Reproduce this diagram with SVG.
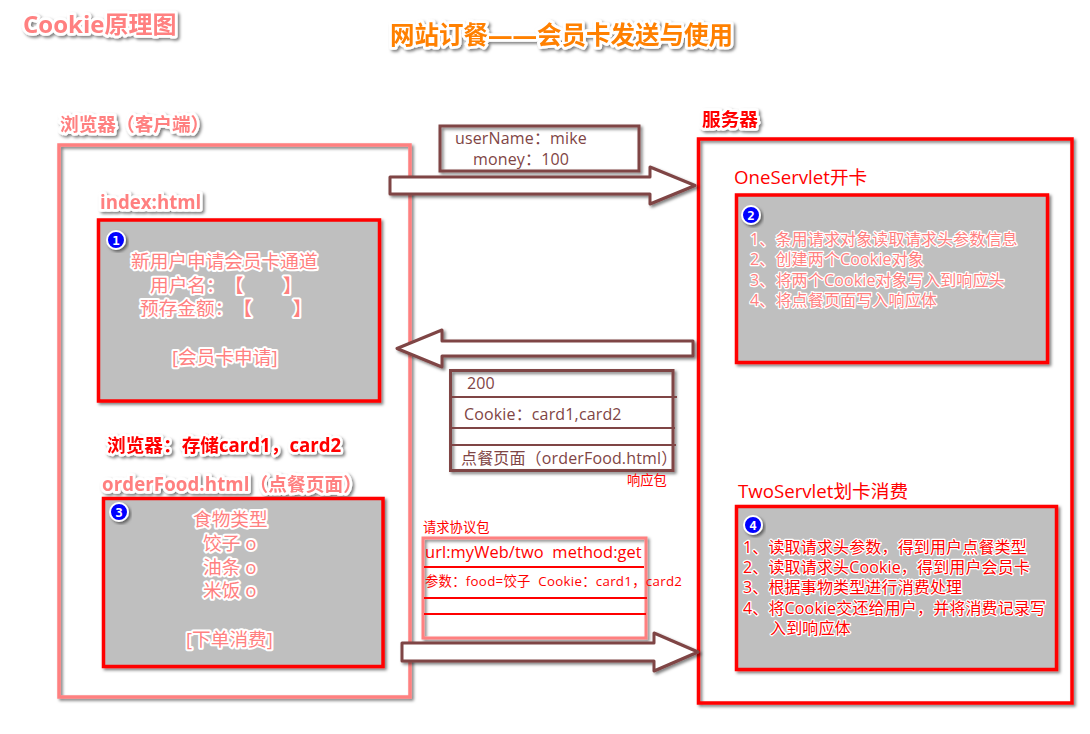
<svg xmlns="http://www.w3.org/2000/svg" width="1090" height="734" viewBox="0 0 1090 734">
<style>
text{font-family:"Open Sans","Noto Sans CJK SC",sans-serif;font-size:18.67px;white-space:pre;text-spacing-trim:space-all}
.h{font-weight:700;paint-order:stroke;stroke:#fff;stroke-width:5.5px;stroke-linejoin:round;filter:url(#s)}
.p{fill:#ff8080}.r{fill:#ff0000}.o{fill:#ff8000}.b{fill:#7f4545}
.halo{paint-order:stroke;stroke:#fff;stroke-width:4px;stroke-linejoin:round}
.thin{stroke-width:2.4px}
.s16{font-size:16px;letter-spacing:.15px}.s13{font-size:13.3px}
.panel{fill:#bfbfbf;stroke:#ff0000;stroke-width:3.5;filter:url(#s)}
.frame{fill:none;stroke-width:3.5;filter:url(#s)}
.arrow{fill:#fff;stroke:#7f4545;stroke-width:3;stroke-linejoin:round;filter:url(#s)}
.box{fill:none;stroke:#7f4545;stroke-width:3;filter:url(#s)}
.bl{stroke:#7f4545;stroke-width:2;fill:none}
.rl{stroke:#ff0000;stroke-width:2;fill:none}
.badge{fill:#0000ff;stroke:#fff;stroke-width:2;filter:url(#s)}
.num{font-family:"DejaVu Sans Mono",monospace;font-size:12.5px;font-weight:700;fill:#fff;text-anchor:middle}
</style>
<defs><filter id="s" x="-20%" y="-20%" width="140%" height="140%"><feDropShadow dx="2" dy="2" stdDeviation="1.8" flood-color="#000" flood-opacity="0.5"/></filter></defs>
<rect width="1090" height="734" fill="#fff"/>
<g id="title"><text class="h p" x="23" y="33" style="font-size:24px">Cookie原理图</text></g>
<g id="heading"><text class="h o" x="390" y="44" style="font-size:24.5px">网站订餐——会员卡发送与使用</text></g>
<g id="browser">
<rect class="frame" x="59" y="145" width="351" height="552" stroke="#ff8080"/>
<text class="h p" x="60" y="131">浏览器（客户端）</text>
</g>
<g id="server">
<rect class="frame" x="698.5" y="139" width="373.5" height="564" stroke="#ff0000"/>
<text class="h r" x="702" y="126">服务器</text>
</g>
<g id="node-index">
<text class="h p" x="100" y="209">index:html</text>
<rect class="panel" x="98.5" y="220" width="281" height="181"/>
<circle class="badge" cx="116" cy="240" r="9"/><text class="num" x="116" y="244.5">1</text>
<text class="p halo"><tspan x="131" y="268">新用户申请会员卡通道</tspan><tspan x="150" y="292">用户名：【</tspan><tspan x="283">】</tspan><tspan x="140" y="315">预存金额：【</tspan><tspan x="293">】</tspan><tspan x="172" y="364">[会员卡申请]</tspan></text>
</g>
<g id="note-store"><text class="h r" x="107" y="452" style="stroke-width:5px">浏览器：存储card1，card2</text></g>
<g id="node-orderfood">
<text class="h p" x="102" y="491" style="letter-spacing:.1px">orderFood.html（点餐页面）</text>
<rect class="panel" x="103.5" y="498.5" width="279.5" height="168"/>
<circle class="badge" cx="119" cy="512" r="9"/><text class="num" x="119" y="516.5">3</text>
<text class="p halo"><tspan x="193" y="526">食物类型</tspan><tspan x="203" y="550">饺子 o</tspan><tspan x="203" y="574">油条 o</tspan><tspan x="203" y="597">米饭 o</tspan><tspan x="186" y="646">[下单消费]</tspan></text>
</g>
<g id="node-oneservlet">
<text class="r" x="734" y="184">OneServlet开卡</text>
<rect class="panel" x="736.5" y="195" width="311" height="167.5"/>
<circle class="badge" cx="751" cy="215" r="9"/><text class="num" x="751" y="219.5">2</text>
<text class="p halo thin s16"><tspan x="750" y="245">1、条用请求对象读取请求头参数信息</tspan><tspan x="750" y="265">2、创建两个Cookie对象</tspan><tspan x="750" y="286">3、将两个Cookie对象写入到响应头</tspan><tspan x="750" y="306">4、将点餐页面写入响应体</tspan></text>
</g>
<g id="node-twoservlet">
<text class="r" x="738" y="498">TwoServlet划卡消费</text>
<rect class="panel" x="736.5" y="506.5" width="320" height="163"/>
<circle class="badge" cx="753" cy="525" r="9"/><text class="num" x="753" y="529.5">4</text>
<text class="r halo thin s16"><tspan x="743" y="553">1、读取请求头参数，得到用户点餐类型</tspan><tspan x="743" y="573">2、读取请求头Cookie，得到用户会员卡</tspan><tspan x="743" y="593">3、根据事物类型进行消费处理</tspan><tspan x="743" y="614">4、将Cookie交还给用户，并将消费记录写</tspan><tspan x="770" y="634">入到响应体</tspan></text>
</g>
<g id="packet-request-params">
<rect class="box" x="440" y="126" width="199" height="45"/>
<text class="b s16"><tspan x="455" y="144">userName：mike</tspan><tspan x="473" y="165">money：100</tspan></text>
</g>
<g id="packet-response">
<rect class="box" x="450.5" y="370.5" width="222.5" height="100"/>
<path class="bl" d="M451 397H677M451 428H675M451 445H676"/>
<text class="b s16"><tspan x="467" y="389">200</tspan><tspan x="464" y="420">Cookie：card1,card2</tspan><tspan x="461" y="464">点餐页面（orderFood.html）</tspan></text>
<text class="r s13" x="627" y="485">响应包</text>
</g>
<g id="packet-request">
<text class="r s13" x="423" y="532">请求协议包</text>
<rect class="box" x="423" y="538" width="223" height="100" style="stroke:#ff8080"/>
<path class="rl" d="M424 567H644M424 598H647M424 614H646"/>
<text class="r" x="425" y="558" style="font-size:16.4px;letter-spacing:.1px">url:myWeb/two  method:get</text>
<text class="r s13" x="425" y="586" style="letter-spacing:.3px">参数：food=饺子  Cookie：card1，card2</text>
</g>
<g id="connectors">
<path class="arrow" d="M390 177H650V167L695 185.500L650 204V194H390Z"/>
<path class="arrow" d="M693 341H442V330L397 348.500L442 367V356H693Z"/>
<path class="arrow" d="M402 643H654V633L698 652L654 671V661H402Z"/>
</g>
</svg>
